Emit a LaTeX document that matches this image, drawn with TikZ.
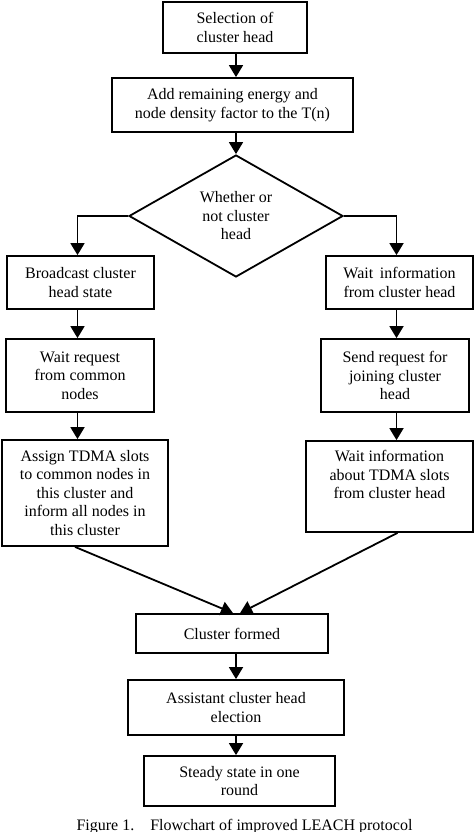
\documentclass[tikz,border=0pt]{standalone}
\usepackage{fontspec}
\setmainfont{Liberation Serif}
\usetikzlibrary{shapes.geometric,arrows.meta}
\begin{document}
\begin{tikzpicture}[x=1pt,y=-1pt,
  every node/.style={font=\fontsize{16}{18.5}\selectfont},
  box/.style={draw, line width=1.8pt, rectangle, align=center, inner sep=2pt},
  dec/.style={draw, line width=1.8pt, diamond, aspect=1.75, align=center, inner sep=0pt, minimum width=214pt, minimum height=122pt},
  arr/.style={line width=1.8pt, -{Triangle[length=12pt,width=14pt]}}]
\useasboundingbox (0,0) rectangle (474,832);
\node[box, minimum width=144pt, minimum height=51pt] (s1) at (235,27.5) {Selection of\\cluster head};
\node[box, minimum width=241pt, minimum height=54pt] (s2) at (232.5,105) {Add remaining energy and\\node density factor to the T(n)};
\node[dec] (q) at (236,216) {Whether or\\not cluster\\head};
\node[box, minimum width=147pt, minimum height=53pt] (a) at (80.5,282.5) {Broadcast cluster\\head state};
\node[box, minimum width=148pt, minimum height=73pt] (b) at (80,375.5) {Wait request\\from common\\nodes};
\node[box, minimum width=166pt, minimum height=106pt] (c) at (85,493) {Assign TDMA slots\\to common nodes in\\this cluster and\\inform all nodes in\\this cluster};
\node[box, minimum width=147pt, minimum height=53pt] (d) at (399.5,282.5) {Wait\, information\\from cluster head};
\node[box, minimum width=148pt, minimum height=73pt] (e) at (395,375.5) {Send request for\\joining cluster\\head};
\node[box, minimum width=167pt, minimum height=91pt] (f) at (389.5,486.5) {Wait information\\about TDMA slots\\from cluster head\\\strut};
\node[box, minimum width=192pt, minimum height=39pt] (g) at (232,633.5) {Cluster formed};
\node[box, minimum width=216pt, minimum height=55pt] (h) at (236,707.5) {Assistant cluster head\\election};
\node[box, minimum width=191pt, minimum height=50pt] (i) at (239.5,781) {Steady state in one\\round};
\node[anchor=base] (cap) at (244.5,830) {Figure 1.\hspace{16pt}Flowchart of improved LEACH protocol};
\draw[arr] (q.north |- s1.south) -- (q.north |- s2.north);
\draw[arr] (q.north |- s2.south) -- (q.north);
\draw[arr] (q.west) -| ([xshift=-3pt]a.north);
\draw[arr] (q.east) -| ([xshift=-3pt]d.north);
\draw[arr] ([xshift=-3pt]a.south) -- ([xshift=-3pt]a.south |- b.north);
\draw[arr] ([xshift=-3pt]a.south |- b.south) -- ([xshift=-3pt]a.south |- c.north);
\draw[arr] ([xshift=-3pt]d.south) -- ([xshift=-3pt]d.south |- e.north);
\draw[arr] ([xshift=-3pt]d.south |- e.south) -- ([xshift=-3pt]d.south |- f.north);
\draw[arr] ([xshift=-10pt]c.south) -- ([xshift=1pt]g.north);
\draw[arr] ([xshift=8pt]f.south) -- ([xshift=8pt]g.north);
\draw[arr] (q.north |- g.south) -- (q.north |- h.north);
\draw[arr] (q.north |- h.south) -- (q.north |- i.north);
\end{tikzpicture}
\end{document}
